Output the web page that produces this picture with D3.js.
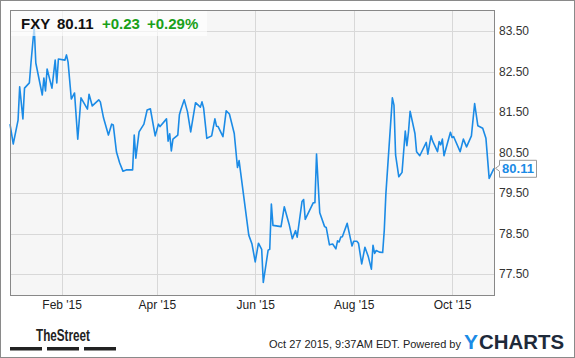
<!DOCTYPE html>
<html>
<head>
<meta charset="utf-8">
<script src="https://cdn.jsdelivr.net/npm/d3@7/dist/d3.min.js"></script>
<style>
  html, body { margin: 0; padding: 0; background: #fff; }
  svg { display: block; font-family: "Liberation Sans", Arial, sans-serif; }
</style>
</head>
<body>
<svg id="chart" width="575" height="358"></svg>
<script>
// FXY daily closes
var dates = [
  "2014-12-31","2015-01-02","2015-01-05","2015-01-06","2015-01-08","2015-01-09","2015-01-12","2015-01-13",
  "2015-01-15","2015-01-16","2015-01-20","2015-01-21","2015-01-22","2015-01-23","2015-01-26","2015-01-28",
  "2015-01-29","2015-01-30","2015-02-03","2015-02-04","2015-02-05","2015-02-07","2015-02-09","2015-02-11",
  "2015-02-13","2015-02-17","2015-02-18","2015-02-20","2015-02-24","2015-02-25","2015-02-27","2015-03-02",
  "2015-03-04","2015-03-05","2015-03-07","2015-03-09","2015-03-11","2015-03-13","2015-03-17","2015-03-18",
  "2015-03-19","2015-03-21","2015-03-24","2015-03-26","2015-03-28","2015-03-31","2015-04-02","2015-04-03",
  "2015-04-07","2015-04-08","2015-04-09","2015-04-10","2015-04-11","2015-04-14","2015-04-15","2015-04-16",
  "2015-04-18","2015-04-20","2015-04-22","2015-04-25","2015-04-28","2015-04-29","2015-04-30","2015-05-02",
  "2015-05-05","2015-05-07","2015-05-08","2015-05-09","2015-05-12","2015-05-14","2015-05-16","2015-05-19",
  "2015-05-21","2015-05-22","2015-05-28","2015-05-30","2015-06-01","2015-06-03","2015-06-05","2015-06-06",
  "2015-06-09","2015-06-10","2015-06-11","2015-06-12","2015-06-17","2015-06-19","2015-06-22","2015-06-24",
  "2015-06-26","2015-06-27","2015-06-30","2015-07-01","2015-07-02","2015-07-07","2015-07-08","2015-07-09",
  "2015-07-11","2015-07-14","2015-07-15","2015-07-17","2015-07-19","2015-07-21","2015-07-22","2015-07-23",
  "2015-07-24","2015-07-25","2015-07-28","2015-07-31","2015-08-01","2015-08-03","2015-08-04","2015-08-06",
  "2015-08-08","2015-08-10","2015-08-12","2015-08-13","2015-08-14","2015-08-15","2015-08-17","2015-08-19",
  "2015-08-20","2015-08-21","2015-08-25","2015-08-26","2015-08-27","2015-08-29","2015-08-31","2015-09-02",
  "2015-09-03","2015-09-04","2015-09-05","2015-09-08","2015-09-09","2015-09-11","2015-09-15","2015-09-16",
  "2015-09-18","2015-09-19","2015-09-22","2015-09-23","2015-09-24","2015-09-25","2015-09-26","2015-09-30",
  "2015-10-01","2015-10-02","2015-10-06","2015-10-08","2015-10-10","2015-10-13","2015-10-15","2015-10-17",
  "2015-10-20","2015-10-22","2015-10-24","2015-10-27"
];
var closes = [
  81.20,80.71,81.30,82.12,81.33,82.09,82.22,82.71,
  83.60,82.71,81.92,82.34,82.02,82.56,82.09,82.78,
  82.22,82.81,82.78,82.91,82.73,81.82,81.97,80.83,
  81.85,81.57,81.94,81.65,81.80,81.75,81.35,80.93,
  81.20,81.18,80.51,80.24,80.04,80.07,80.07,80.93,
  80.36,81.01,81.20,81.55,81.58,80.91,81.20,81.14,
  81.33,80.78,80.96,80.54,80.83,80.93,81.43,81.57,
  81.80,81.51,81.01,81.73,81.62,81.75,81.60,80.85,
  80.91,81.33,81.15,81.14,80.89,81.53,81.45,80.97,
  80.13,80.30,78.46,78.24,77.80,78.26,78.11,77.29,
  78.09,78.11,79.23,78.70,78.67,79.16,78.73,78.37,
  78.57,78.41,79.29,79.34,78.85,79.26,79.26,80.46,
  79.01,78.67,78.65,78.22,78.24,78.12,78.32,78.29,
  78.41,78.42,78.75,78.19,78.31,78.31,78.26,77.75,
  78.16,77.94,77.62,78.21,78.01,78.08,78.04,78.03,
  78.59,79.49,81.85,81.67,80.44,79.90,80.01,81.03,
  80.67,81.01,81.52,80.97,80.52,80.42,80.75,80.46,
  80.91,80.78,80.52,80.77,80.69,80.83,80.42,81.00,
  80.87,80.89,80.52,80.83,80.64,80.91,81.71,81.16,
  81.10,80.85,79.86,80.11
];
var yTicks = [77.5, 78.5, 79.5, 80.5, 81.5, 82.5, 83.5];
var xTicks = ["2015-02-01", "2015-04-01", "2015-06-01", "2015-08-01", "2015-10-01"];
var header = [
  { text: "FXY",    color: "#111" },
  { text: "80.11",  color: "#111" },
  { text: "+0.23",  color: "#19a019" },
  { text: "+0.29%", color: "#19a019" }
];
var lastValue = "80.11";

var parse = d3.timeParse("%Y-%m-%d");
var data = dates.map(function(d, i) { return { date: parse(d), value: closes[i] }; });

var svg = d3.select("#chart");
var plot = { left: 10, top: 10, right: 494, bottom: 295 };

var x = d3.scaleTime()
  .domain([parse("2014-12-31"), parse("2015-10-27")])
  .range([plot.left, plot.right]);
var y = d3.scaleLinear()
  .domain([77.5, 83.5])
  .range([274, 31]);

// outer frame
svg.append("rect")
  .attr("x", 0.5).attr("y", 0.5).attr("width", 574).attr("height", 357)
  .attr("fill", "#fff").attr("stroke", "#8a8a8a");

// plot background
svg.append("rect")
  .attr("x", plot.left).attr("y", plot.top)
  .attr("width", plot.right - plot.left).attr("height", plot.bottom - plot.top)
  .attr("fill", "#f6f6f6");

// gridlines
svg.append("g").selectAll("line").data(yTicks).join("line")
  .attr("x1", plot.left).attr("x2", plot.right)
  .attr("y1", function(d) { return Math.round(y(d)) + 0.5; })
  .attr("y2", function(d) { return Math.round(y(d)) + 0.5; })
  .attr("stroke", "#d8d8d8").attr("stroke-width", 1);

svg.append("g").selectAll("line").data(xTicks.map(parse)).join("line")
  .attr("x1", function(d) { return Math.round(x(d)) + 0.5; })
  .attr("x2", function(d) { return Math.round(x(d)) + 0.5; })
  .attr("y1", plot.top).attr("y2", plot.bottom)
  .attr("stroke", "#d8d8d8").attr("stroke-width", 1);

// price line
var line = d3.line()
  .x(function(d) { return x(d.date); })
  .y(function(d) { return y(d.value); });

svg.append("path")
  .datum(data)
  .attr("d", line)
  .attr("fill", "none")
  .attr("stroke", "#1b8be6")
  .attr("stroke-width", 1.6)
  .attr("stroke-linejoin", "round");

// plot frame
svg.append("rect")
  .attr("x", plot.left + 0.5).attr("y", plot.top + 0.5)
  .attr("width", plot.right - plot.left).attr("height", plot.bottom - plot.top)
  .attr("fill", "none").attr("stroke", "#888");

// header over the line
svg.append("rect")
  .attr("x", plot.left + 1).attr("y", plot.top + 1).attr("width", 196).attr("height", 25)
  .attr("fill", "#fff").attr("opacity", 0.65);

var hx = [21, 57, 102, 147];
svg.append("g").selectAll("text").data(header).join("text")
  .attr("x", function(d, i) { return hx[i]; })
  .attr("y", 29)
  .attr("font-size", 15).attr("font-weight", "bold")
  .attr("fill", function(d) { return d.color; })
  .text(function(d) { return d.text; });

// y axis labels
var yAxis = d3.axisRight(y).tickValues(yTicks).tickSize(0).tickPadding(0)
  .tickFormat(d3.format(".2f"));
var gy = svg.append("g").attr("transform", "translate(499,0)").call(yAxis);
gy.select(".domain").remove();
gy.selectAll("text").attr("font-size", 12).attr("fill", "#333")
  .attr("font-family", "Liberation Sans, Arial, sans-serif");

// x axis labels
var xAxis = d3.axisBottom(x).tickValues(xTicks.map(parse)).tickSize(0).tickPadding(0)
  .tickFormat(d3.timeFormat("%b '%y"));
var gx = svg.append("g").attr("transform", "translate(0,300)").call(xAxis);
gx.select(".domain").remove();
gx.selectAll("text").attr("font-size", 12).attr("fill", "#222")
  .attr("font-family", "Liberation Sans, Arial, sans-serif");

// last value flag
var ly = y(closes[closes.length - 1]);
svg.append("path")
  .attr("d", "M499.5," + (ly - 8) + " H536.5 V" + (ly + 9) + " H499.5 V" + (ly + 3) +
             " L495.5," + ly + " L499.5," + (ly - 3) + " Z")
  .attr("fill", "#fff").attr("stroke", "#999");
svg.append("text")
  .attr("x", 518).attr("y", ly + 5)
  .attr("text-anchor", "middle")
  .attr("font-size", 13).attr("font-weight", "bold").attr("fill", "#1b8be6")
  .text(lastValue);

// footer: TheStreet
svg.append("text")
  .attr("x", 36).attr("y", 341)
  .attr("font-family", "Liberation Sans Narrow, Arial Narrow, sans-serif")
  .attr("font-size", 17).attr("font-weight", "bold").attr("fill", "#222")
  .attr("textLength", 54).attr("lengthAdjust", "spacingAndGlyphs")
  .text("TheStreet");
svg.append("g").selectAll("rect").data([10, 47, 84]).join("rect")
  .attr("x", function(d) { return d; }).attr("y", 347)
  .attr("width", 32).attr("height", 3.5)
  .attr("fill", "#222");

// footer: timestamp and YCharts
svg.append("text")
  .attr("x", 269).attr("y", 348)
  .attr("font-size", 11).attr("fill", "#222")
  .text("Oct 27 2015, 9:37AM EDT. Powered by");

svg.append("text")
  .attr("x", 464).attr("y", 349)
  .attr("font-size", 21).attr("font-weight", "bold").attr("fill", "#1b8be6")
  .text("Y");
svg.append("text")
  .attr("x", 479).attr("y", 349)
  .attr("font-size", 21).attr("font-weight", "bold").attr("fill", "#1e2a3a")
  .attr("textLength", 85).attr("lengthAdjust", "spacingAndGlyphs")
  .text("CHARTS");
</script>
</body>
</html>
